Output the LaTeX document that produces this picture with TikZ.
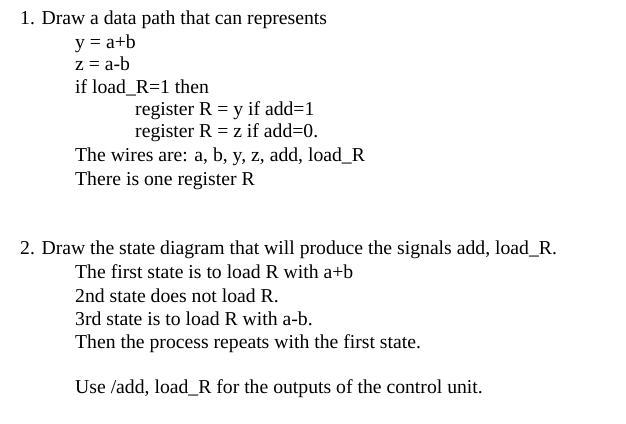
\documentclass[tikz,border=0pt]{standalone}
\usepackage{fontspec}
\setmainfont{Liberation Serif}
\begin{document}
\begin{tikzpicture}[x=1pt,y=-1pt,txt/.style={anchor=base west,inner sep=0pt,font=\fontsize{19.7}{22}\selectfont}]
\useasboundingbox (0,0) rectangle (626,423);
\node[txt] (l1) at (20,24) {1. Draw a data path that can represents};
\node[txt] (l2) at (75,48) {y = a+b};
\node[txt] (l3) at (75,70) {z = a-b};
\node[txt] (l4) at (75,93) {if load\_R=1 then};
\node[txt] (l5) at (135,115) {register R = y if add=1};
\node[txt] (l6) at (135,137) {register R = z if add=0.};
\node[txt] (l7) at (75,161) {The wires are: a, b, y, z, add, load\_R};
\node[txt] (l8) at (75,185) {There is one register R};
\node[txt] (m1) at (20,254) {2. Draw the state diagram that will produce the signals add, load\_R.};
\node[txt] (m2) at (75,278) {The first state is to load R with a+b};
\node[txt] (m3) at (75,302) {2nd state does not load R.};
\node[txt] (m4) at (75,325) {3rd state is to load R with a-b.};
\node[txt] (m5) at (75,348) {Then the process repeats with the first state.};
\node[txt] (m6) at (75,393) {Use /add, load\_R for the outputs of the control unit.};
\end{tikzpicture}
\end{document}
